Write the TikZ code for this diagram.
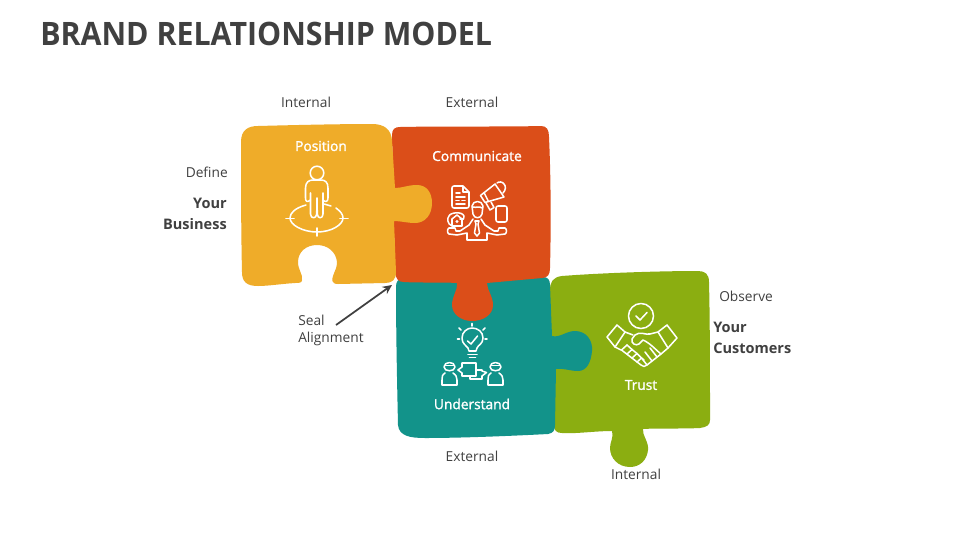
\documentclass[tikz,border=0pt]{standalone}
\usepackage{fontspec}
\usetikzlibrary{arrows.meta}
\setmainfont{Open Sans}
\newfontfamily\semifont[FakeBold=1.6]{Open Sans}
\definecolor{cyellow}{HTML}{EFAC29}
\definecolor{cred}{HTML}{DB4E19}
\definecolor{cteal}{HTML}{12938A}
\definecolor{cgreen}{HTML}{8BAE11}
\definecolor{ctext}{HTML}{404040}
\tikzset{
  lab/.style={font=\fontsize{10.3}{12.5}\selectfont,text=ctext,inner sep=0pt,align=left},
  labb/.style={font=\fontsize{10.9}{15.5}\selectfont\bfseries,text=ctext,inner sep=0pt},
  head/.style={font=\fontsize{10.3}{12}\selectfont\semifont,text=white,inner sep=0pt},
  ico/.style={draw=white,line width=1.15pt,line cap=round,line join=round,fill=none},
  piece/.style={draw=none}
}
\begin{document}
\begin{tikzpicture}[x=0.75pt,y=-0.75pt]
\useasboundingbox (0,0) rectangle (960,540);
\fill[white] (0,0) rectangle (960,540);
\node[anchor=west,inner sep=0pt,font=\fontsize{24.2}{28}\selectfont\bfseries,text=ctext,xscale=0.94] (title) at (40,34) {BRAND RELATIONSHIP MODEL};
% green piece
\fill[cgreen,piece] (550,290) .. controls (550,282) and (553,277) .. (562,276) .. controls (600,273) and (660,271) .. (698,271)
 .. controls (705,271) and (709,274) .. (709,282) .. controls (710,320) and (710,380) .. (710,420)
 .. controls (710,425) and (707,427) .. (700,428) .. controls (680,429) and (660,428) .. (643,429)
 .. controls (642,435) and (649,442) .. (648,450) .. controls (647,460) and (640,467) .. (630,467)
 .. controls (618,467) and (610,458) .. (610,448) .. controls (610,442) and (614,437) .. (612,431)
 .. controls (595,431) and (575,434) .. (562,433) .. controls (556,433) and (554,430) .. (554,425)
 .. controls (553,380) and (550,330) .. (550,290) -- cycle;
% teal piece
\fill[cteal,piece] (396,287) .. controls (396,281) and (398,279) .. (403,279) -- (543,277)
 .. controls (548,277) and (550,280) .. (550,285) -- (552,336) .. controls (560,338) and (566,331) .. (575,331)
 .. controls (586,331) and (593,340) .. (592,351) .. controls (591,362) and (587,371) .. (578,371)
 .. controls (570,371) and (564,368) .. (556,369) -- (555,425) .. controls (555,431) and (553,433) .. (548,434)
 .. controls (510,436) and (460,438) .. (425,438) .. controls (410,438) and (399,436) .. (398,425)
 .. controls (397,380) and (396,330) .. (396,287) -- cycle;
% red piece
\fill[cred,piece] (392,135) .. controls (392,129) and (395,127) .. (400,127) .. controls (450,126) and (500,127) .. (541,126)
 .. controls (547,126) and (549,130) .. (549,137) .. controls (551,180) and (551,230) .. (550,268)
 .. controls (550,274) and (548,278) .. (542,278) -- (487,283) .. controls (487,290) and (493,296) .. (493,305)
 .. controls (493,315) and (483,321) .. (472,321) .. controls (461,321) and (452,314) .. (452,305)
 .. controls (452,296) and (458,290) .. (457,283) .. controls (440,282) and (420,283) .. (404,282)
 .. controls (398,282) and (396,279) .. (395,272) -- cycle;
% yellow piece
\fill[cyellow,piece] (241,142) .. controls (241,130) and (248,126) .. (258,126) .. controls (295,125) and (340,124) .. (372,124)
 .. controls (385,124) and (391,130) .. (392,140) -- (395,188) .. controls (402,188) and (408,185) .. (417,185)
 .. controls (427,185) and (432,193) .. (432,203) .. controls (432,215) and (425,223) .. (415,223)
 .. controls (407,223) and (401,221) .. (394,221) -- (396,272) .. controls (396,280) and (392,283) .. (385,283)
 -- (338,284) .. controls (331,284) and (332,279) .. (333,276) .. controls (335,270) and (337,268) .. (337,262)
 .. controls (336,252) and (328,245) .. (317,245) .. controls (306,245) and (298,252) .. (298,262)
 .. controls (298,270) and (303,274) .. (302,280) .. controls (302,283) and (299,283) .. (295,283)
 .. controls (280,284) and (268,286) .. (258,286) .. controls (247,286) and (242,282) .. (242,272)
 .. controls (241,230) and (241,180) .. (241,142) -- cycle;
% labels
\node[lab,anchor=center] (l1) at (306,102) {Internal};
\node[lab,anchor=center] (l2) at (472,102) {External};
\node[lab,anchor=east] (l3) at (228,172) {Define};
\node[labb,anchor=east,align=right] (l4) at (227,214) {Your\\Business};
\node[lab,anchor=west] (l5) at (298,330.5) {Seal\\Alignment};
\node[lab,anchor=center] (l6) at (472,456) {External};
\node[lab,anchor=center] (l7) at (636,474) {Internal};
\node[lab,anchor=west] (l8) at (719,296) {Observe};
\node[labb,anchor=west,align=left] (l9) at (713,338) {Your\\Customers};
\node[head] (h1) at (321,146) {Position};
\node[head] (h2) at (477,156) {Communicate};
\node[head] (h3) at (472,404) {Understand};
\node[head] (h4) at (641,385) {Trust};
% arrow
\coordinate (as) at (336,325);
\coordinate (ae) at (392,285);
\draw[-{Stealth[length=7pt,width=6.5pt]},ctext,line width=1.3pt] (as) -- (ae);
% Position icon
\draw[ico] (317,173) circle (6.8);
\draw[ico] (310.5,193) -- (310.5,214) .. controls (310.5,219) and (316.5,219) .. (316.7,214) -- (317,198) -- (317.3,214) .. controls (317.5,219) and (323,219) .. (323,214) -- (323,193);
\draw[ico] (310.5,200) .. controls (307,203) and (305.5,201) .. (305.5,198) -- (305.5,188) .. controls (305.5,182) and (309,180) .. (313,180) -- (321,180) .. controls (325,180) and (328,182) .. (328,188) -- (328,198) .. controls (328,201) and (326,203) .. (323,200);
\draw[ico] (306,205) .. controls (295,208) and (290,213) .. (290,218) .. controls (290,225) and (303,232) .. (317,232) .. controls (331,232) and (343,225) .. (343,218) .. controls (343,214) and (340,211) .. (336,208);
\draw[ico] (324,204) -- (331,206);
\draw[ico] (286,218.5) -- (294,218.5) (340,218.5) -- (348,218.5) (317,228) -- (317,236);
% Communicate icon
\draw[ico] (463,186) -- (454,186) .. controls (452.5,186) and (452,187) .. (452,188) -- (452,206) .. controls (452,207) and (453,208) .. (454,208) -- (467,208) .. controls (468,208) and (469,207) .. (469,206) -- (469,192) -- (463,186) -- (463,192) -- (469,192);
\draw[ico] (456,193) -- (460,193) (456,197) -- (465,197) (456,200.5) -- (459,200.5) (462,200.5) -- (465,200.5) (456,204) -- (465,204);
\draw[ico] (480.5,195.5) -- (495,184) -- (504,197) -- (485,202.5) -- cycle;
\draw[ico] (484,192.5) -- (488.5,201.5);
\draw[ico] (497,183) .. controls (499,181) and (503,182) .. (504,184) .. controls (506,186) and (506,190) .. (503,193);
\draw[ico] (486,203) -- (490,210) -- (494,207.5) -- (491,202);
\draw[ico] (498,206) -- (505,206) .. controls (506.5,206) and (507,207) .. (507,208) -- (507,220) .. controls (507,221) and (506,222) .. (505,222) -- (498,222) .. controls (497,222) and (496,221) .. (496,220) -- (496,208) .. controls (496,207) and (497,206) .. (498,206) -- cycle;
\draw[ico] (472,206) .. controls (473,200) and (482,200) .. (483,206) -- (482,214) .. controls (481,219) and (474,219) .. (473,214) -- cycle;
\draw[ico] (473,207) .. controls (476,208) and (480,206) .. (482,208);
\draw[ico] (473,219) -- (469,225) -- (460,231) -- (456,231) -- (455,228) -- (449,228) .. controls (447,229) and (447,233) .. (449,234) -- (457,235) -- (467,233) -- (467,240) -- (487,240) -- (487,233) -- (497,235) -- (505,234) .. controls (507,233) and (507,229) .. (505,228) -- (499,228) -- (498,231) -- (494,231) -- (485,225) -- (481,219);
\draw[ico] (475,221) -- (479,221) -- (478,224) -- (479.5,233) -- (477,236) -- (474.5,233) -- (476,224) -- (475,221);
\draw[ico] (452,226) .. controls (447,224) and (447,218) .. (449,216) .. controls (450,212.5) and (462,211) .. (464,216) -- (463.5,219) -- (460,219) (452,226) -- (462,226) -- (462,219) -- (457,215) -- (452,219) -- (452,226);
\fill[white] (457,221.5) circle (1.6);
% Understand icon
\draw[ico] (469,351) -- (468,348) .. controls (466,345) and (462,344) .. (462,338) .. controls (462,332) and (467,328) .. (472,328) .. controls (478,328) and (483,332) .. (483,338) .. controls (483,344) and (478,345) .. (477,348) -- (476,351) -- cycle;
\draw[ico] (468,354.5) -- (477,354.5) (469.5,357.5) -- (475.5,357.5);
\draw[ico] (467.5,341) -- (471,344) -- (477.5,336);
\draw[ico] (472,326) -- (472,323.5) (461,330) -- (459,328) (483,330) -- (485,328) (457.5,339) -- (459.5,339) (485,339) -- (487,339);
\draw[ico] (444,367) .. controls (444,361) and (455,361) .. (455,367) .. controls (455,372) and (444,372) .. (444,367) -- cycle;
\draw[ico] (444.5,365.5) -- (454.5,365.5);
\draw[ico] (445,373) .. controls (442,375) and (442,377) .. (442,380) -- (442,385) -- (457,385) -- (457,380) .. controls (457,377) and (456,375) .. (453,373) ;
\draw[ico] (490,367) .. controls (490,361) and (501,361) .. (501,367) .. controls (501,372) and (490,372) .. (490,367) -- cycle;
\draw[ico] (490.5,365.5) -- (500.5,365.5);
\draw[ico] (491,373) .. controls (488,375) and (488,377) .. (488,380) -- (488,385) -- (503,385) -- (503,380) .. controls (503,377) and (502,375) .. (499,373) ;
\draw[ico] (462,367) -- (458,370) -- (462,373) -- (462,376) -- (476,376) -- (476,363) -- (462,363) -- cycle;
\draw[ico] (476,370) -- (482,370) -- (482,371) -- (486.5,372.5) -- (482,376) -- (482,379) -- (470,379) -- (470,376);
% Trust icon
\draw[ico] (641,316) circle (12.5);
\draw[ico] (636,316) -- (640,320) -- (647,312.5);
\draw[ico] (607,337) -- (617,325) -- (625,332) -- (615,347) -- cycle;
\draw[ico] (677,338) -- (667,325) -- (658,332) -- (668,348) -- cycle;
\draw[ico] (625,332) -- (633,335);
\draw[ico] (658,332) -- (650,334) .. controls (645,335) and (640,331) .. (635,335) -- (632,339) .. controls (631,344) and (636,346) .. (639,344) -- (643,340) .. controls (650,343) and (656,350) .. (661,354) -- (668,348);
\draw[ico] (615,347) -- (621,350);
\draw[ico] (621.5,350) -- (627,345) (627,354) -- (632,349.5) (632,358) -- (637,353.5) (637,362) -- (641.5,358);
\draw[ico] (621.5,350) -- (641,365) .. controls (643,367) and (645,367) .. (647,365) -- (661,354);
\draw[ico] (627,345) -- (632,349.5) (632,349.5) -- (637,353.5) (637,353.5) -- (641.5,358) (641.5,358) -- (644,360);
\draw[ico] (647,365) -- (641.5,358) (652,361) -- (645,352) (657,357) -- (650,348);
\end{tikzpicture}
\end{document}
